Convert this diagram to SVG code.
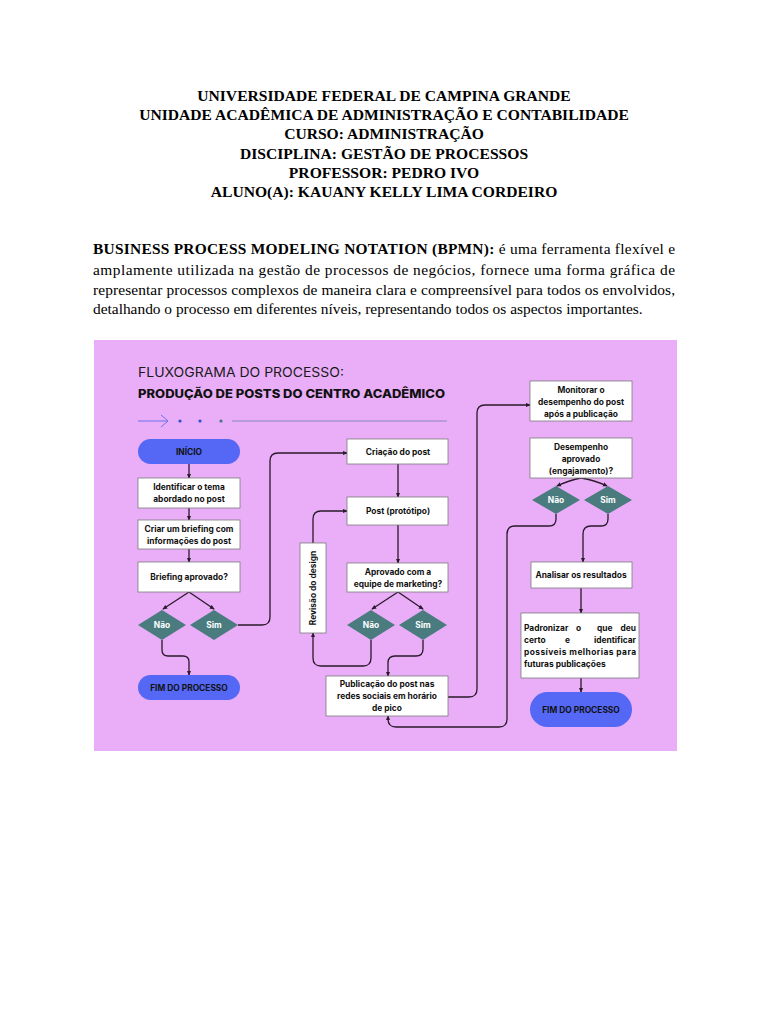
<svg xmlns="http://www.w3.org/2000/svg" width="768" height="1024" viewBox="0 0 768 1024">
<defs>
<marker id="ah" viewBox="0 0 6 6" refX="5" refY="3" markerWidth="5" markerHeight="5" orient="auto" markerUnits="userSpaceOnUse">
<path d="M0,0.5 L6,3 L0,5.5 Z" fill="#2a1a2a"/>
</marker>
<style>
.hd{font-family:"Liberation Serif","Times New Roman",serif;font-size:15.6px;font-weight:700;fill:#000;text-anchor:middle}
.bd{font-family:"Liberation Serif","Times New Roman",serif;font-size:15.4px;fill:#000}
.box{fill:#fff;stroke:#7a7a7a;stroke-width:0.8}
.pill{fill:#5468f5}
.dia{fill:#4a7b7f}
.t{font-family:Inter,"Liberation Sans",sans-serif;font-size:8.4px;font-weight:700;fill:#111;text-anchor:middle}
.tl{font-family:Inter,"Liberation Sans",sans-serif;font-size:8.4px;font-weight:700;fill:#111}
.tw{font-family:Inter,"Liberation Sans",sans-serif;font-size:8.4px;font-weight:700;fill:#fff;text-anchor:middle}
.c{fill:none;stroke:#2a1a2a;stroke-width:1.3}
.ca{fill:none;stroke:#2a1a2a;stroke-width:1.3;marker-end:url(#ah)}
</style>
</defs>
<rect width="768" height="1024" fill="#fff"/>
<g id="header">
<text class="hd" x="384" y="101">UNIVERSIDADE FEDERAL DE CAMPINA GRANDE</text>
<text class="hd" x="384" y="120">UNIDADE ACADÊMICA DE ADMINISTRAÇÃO E CONTABILIDADE</text>
<text class="hd" x="384" y="139">CURSO: ADMINISTRAÇÃO</text>
<text class="hd" x="384" y="159">DISCIPLINA: GESTÃO DE PROCESSOS</text>
<text class="hd" x="384" y="178">PROFESSOR: PEDRO IVO</text>
<text class="hd" x="384" y="197">ALUNO(A): KAUANY KELLY LIMA CORDEIRO</text>
</g>
<g id="intro">
<text class="bd" x="93" y="254" textLength="582" lengthAdjust="spacing"><tspan font-weight="700">BUSINESS PROCESS MODELING NOTATION (BPMN):</tspan> é uma ferramenta flexível e</text>
<text class="bd" x="93" y="275" textLength="582" lengthAdjust="spacing">amplamente utilizada na gestão de processos de negócios, fornece uma forma gráfica de</text>
<text class="bd" x="93" y="295" textLength="582" lengthAdjust="spacing">representar processos complexos de maneira clara e compreensível para todos os envolvidos,</text>
<text class="bd" x="93" y="314">detalhando o processo em diferentes níveis, representando todos os aspectos importantes.</text>
</g>
<rect id="panel" x="94" y="340" width="583" height="411" fill="#e9aef7"/>
<g id="title">
<text x="138" y="377" font-family="Inter,'Liberation Sans',sans-serif" font-size="13" font-weight="400" fill="#1a1a1a" textLength="206" lengthAdjust="spacingAndGlyphs">FLUXOGRAMA DO PROCESSO:</text>
<text x="138" y="398" font-family="Inter,'Liberation Sans',sans-serif" font-size="11.5" font-weight="800" fill="#111" textLength="307" lengthAdjust="spacingAndGlyphs">PRODUÇÃO DE POSTS DO CENTRO ACADÊMICO</text>
<path d="M138,421 H168 M161,415 L168,421 L161,427" fill="none" stroke="#6a72ec" stroke-width="1"/>
<circle cx="180" cy="421" r="1.6" fill="#2d4fd0"/>
<circle cx="200" cy="421" r="1.6" fill="#2d4fd0"/>
<circle cx="221" cy="421" r="1.6" fill="#3a7a80"/>
<line x1="232" y1="421" x2="447" y2="421" stroke="#8a86c4" stroke-width="1.2"/>
</g>
<g id="connectors">
<path class="ca" d="M189,464 V478"/>
<path class="ca" d="M189,508 V520"/>
<path class="ca" d="M189,549 V562"/>
<path class="ca" d="M189,592 L163,609"/>
<path class="ca" d="M189,592 L214,609"/>
<path class="ca" d="M162,640 V650 Q162,656 168,656 H183 Q189,656 189,662 V675"/>
<path class="ca" d="M238,625 H262 Q270,625 270,617 V461 Q270,453 278,453 H347"/>
<path class="ca" d="M398,464 V497"/>
<path class="ca" d="M398,525 V563"/>
<path class="ca" d="M398,592 L372,609"/>
<path class="ca" d="M398,592 L423,609"/>
<path class="ca" d="M371,640 V658 Q371,666 363,666 H321 Q313,666 313,658 V633"/>
<path class="ca" d="M313,543 V519 Q313,511 321,511 H347"/>
<path class="ca" d="M423,640 V649 Q423,656 416,656 H395 Q388,656 388,663 V676"/>
<path class="ca" d="M448,697 H469 Q477,697 477,689 V413 Q477,405 485,405 H530"/>
<path class="ca" d="M581,478 Q570,480 557,486"/>
<path class="ca" d="M581,478 Q594,480 607,486"/>
<path class="ca" d="M556,514 V519 Q556,526 549,526 H515 Q507,526 507,534 V719 Q507,727 499,727 H396 Q388,727 388,719 V716"/>
<path class="ca" d="M608,514 V519 Q608,526 601,526 H591 Q583,526 583,534 V562"/>
<path class="ca" d="M581,588 V613"/>
<path class="ca" d="M581,678 V692"/>
</g>
<g id="inicio"><rect class="pill" x="138" y="439" width="102" height="25" rx="12.5"/><text class="t" x="189" y="455">INÍCIO</text></g>
<g id="identificar"><rect class="box" x="138" y="478" width="102" height="30"/><text class="t" x="189" y="490">Identificar o tema</text><text class="t" x="189" y="502">abordado no post</text></g>
<g id="briefing"><rect class="box" x="138" y="520" width="102" height="29"/><text class="t" x="189" y="532">Criar um briefing com</text><text class="t" x="189" y="544">informações do post</text></g>
<g id="briefing-aprovado"><rect class="box" x="138" y="562" width="102" height="30"/><text class="t" x="189" y="580">Briefing aprovado?</text></g>
<g id="nao1"><path class="dia" d="M138,625 L162,610 L186,625 L162,640 Z"/><text class="tw" x="162" y="628">Não</text></g>
<g id="sim1"><path class="dia" d="M190,625 L214,610 L238,625 L214,640 Z"/><text class="tw" x="214" y="628">Sim</text></g>
<g id="fim1"><rect class="pill" x="138" y="675" width="102" height="25" rx="12.5"/><text class="t" x="189" y="691">FIM DO PROCESSO</text></g>
<g id="criacao"><rect class="box" x="347" y="439" width="101" height="25"/><text class="t" x="398" y="455">Criação do post</text></g>
<g id="prototipo"><rect class="box" x="347" y="497" width="101" height="28"/><text class="t" x="398" y="514">Post (protótipo)</text></g>
<g id="aprovado"><rect class="box" x="347" y="563" width="101" height="29"/><text class="t" x="398" y="575">Aprovado com a</text><text class="t" x="398" y="587">equipe de marketing?</text></g>
<g id="revisao"><rect class="box" x="300" y="543" width="26" height="90"/><text class="t" transform="translate(316,588) rotate(-90)" x="0" y="0">Revisão do design</text></g>
<g id="nao2"><path class="dia" d="M347,625 L371,610 L395,625 L371,640 Z"/><text class="tw" x="371" y="628">Não</text></g>
<g id="sim2"><path class="dia" d="M399,625 L423,610 L447,625 L423,640 Z"/><text class="tw" x="423" y="628">Sim</text></g>
<g id="publicacao"><rect class="box" x="326" y="676" width="122" height="40"/><text class="t" x="387" y="687">Publicação do post nas</text><text class="t" x="387" y="699">redes sociais em horário</text><text class="t" x="387" y="711">de pico</text></g>
<g id="monitorar"><rect class="box" x="530" y="381" width="102" height="40"/><text class="t" x="581" y="393">Monitorar o</text><text class="t" x="581" y="405">desempenho do post</text><text class="t" x="581" y="417">após a publicação</text></g>
<g id="desempenho"><rect class="box" x="530" y="438" width="102" height="40"/><text class="t" x="581" y="450">Desempenho</text><text class="t" x="581" y="462">aprovado</text><text class="t" x="581" y="474">(engajamento)?</text></g>
<g id="nao3"><path class="dia" d="M532,500 L556,486 L580,500 L556,514 Z"/><text class="tw" x="556" y="503">Não</text></g>
<g id="sim3"><path class="dia" d="M584,500 L608,486 L632,500 L608,514 Z"/><text class="tw" x="608" y="503">Sim</text></g>
<g id="analisar"><rect class="box" x="531" y="562" width="101" height="26"/><text class="t" x="581" y="578">Analisar os resultados</text></g>
<g id="padronizar"><rect class="box" x="521" y="613" width="118" height="65"/>
<text class="tl" y="631"><tspan x="524">Padronizar</tspan><tspan x="576">o</tspan><tspan x="597">que</tspan><tspan x="636" text-anchor="end">deu</tspan></text>
<text class="tl" y="643"><tspan x="524">certo</tspan><tspan x="565">e</tspan><tspan x="636" text-anchor="end">identificar</tspan></text>
<text class="tl" x="524" y="655" textLength="112" lengthAdjust="spacing">possíveis melhorias para</text>
<text class="tl" x="524" y="667">futuras publicações</text></g>
<g id="fim2"><rect class="pill" x="530" y="692" width="102" height="35" rx="17.5"/><text class="t" x="581" y="713">FIM DO PROCESSO</text></g>
</svg>
